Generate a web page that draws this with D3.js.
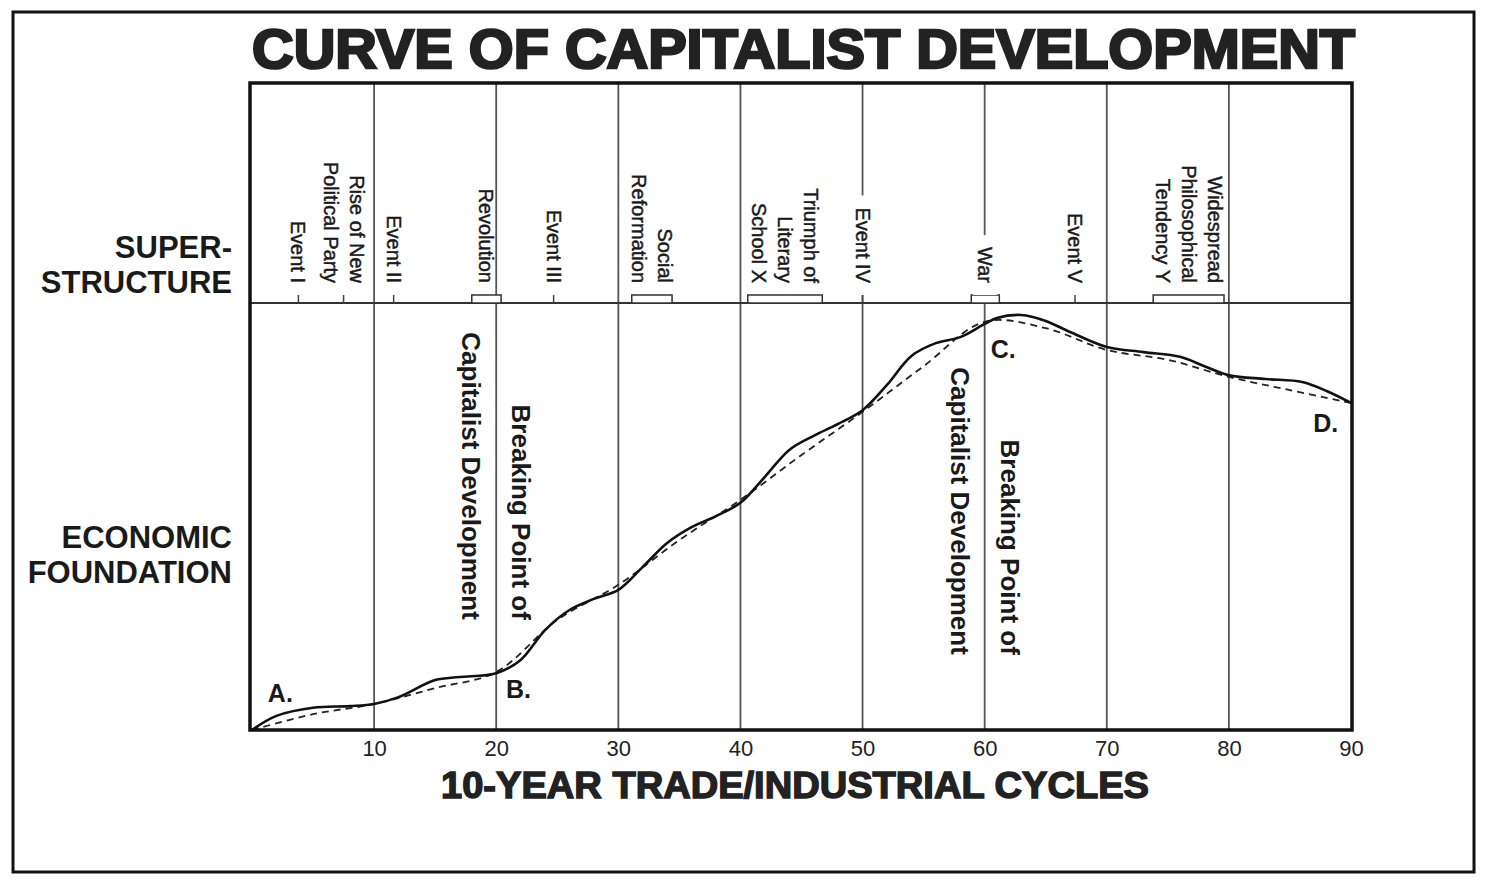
<!DOCTYPE html>
<html lang="en">
<head>
<meta charset="UTF-8">
<title>Curve of Capitalist Development</title>
<script src="https://d3js.org/d3.v7.min.js"></script>
<style>
  body { margin: 0; background: #fff; }
  svg { display: block; font-family: "Liberation Sans", Arial, Helvetica, sans-serif; }
</style>
</head>
<body>
<svg id="chart" width="1487" height="885"></svg>
<script>
// axis
const xTicks = [10, 20, 30, 40, 50, 60, 70, 80, 90];
const gridCycles = [10, 20, 30, 40, 50, 60, 70, 80];

// economic foundation: actual curve (solid) and trend (dashed), level 0-100
const cycleX = [0, 2, 5, 8, 10, 12, 15, 17, 20, 22, 24, 26, 28, 30, 32, 34, 36, 38, 40, 42, 44, 46, 48,
  50, 52, 54, 56, 58, 60, 61, 63, 65, 67, 70, 73, 76, 78, 80, 83, 86, 88, 90];
const actualLevel = [0, 3.3, 5.2, 5.6, 6.1, 7.7, 11.7, 12.4, 13.3, 16.4, 23.4, 28.1, 30.7, 32.8, 38.2, 43.8,
  47.5, 50.1, 53.2, 59.3, 65.6, 68.9, 71.7, 74.9, 80.8, 87.6, 90.6, 92.0, 95.1, 96.5, 97.2, 95.8, 93.2,
  89.7, 88.5, 87.4, 85.2, 83.1, 82.2, 81.5, 79.4, 76.6];
const trendX = [0, 5, 10, 15, 20, 25, 30, 35, 40, 45, 50, 55, 60, 65, 70, 75, 80, 85, 90];
const trendLevel = [0, 3.7, 6.1, 9.8, 13.6, 25.8, 34.0, 44.5, 53.9, 64.4, 74.5, 85.2, 95.6, 94.1, 89.0,
  86.7, 82.7, 79.6, 76.6];

// superstructure: single events (tick) and periods (bracket)
const eventLabels = [["Event I"], ["Rise of New", "Political Party"], ["Event II"], ["Event III"], ["Event IV"], ["Event V"]];
const eventX = [3.8, 7.5, 11.6, 24.7, 50, 67.4];
const periodLabels = [["Revolution"], ["Social", "Reformation"], ["Triumph of", "Literary", "School X"], ["War"],
  ["Widespread", "Philosophical", "Tendency Y"]];
const periodStart = [18.0, 31.1, 40.6, 58.9, 73.8];
const periodEnd = [20.4, 34.4, 46.7, 61.2, 79.6];

// curve annotations
const pointNames = ["A.", "B.", "C.", "D."];
const pointX = [1.3, 20.8, 60.5, 86.9];
const pointLevel = [6.6, 7.5, 87.1, 69.8];
const breakLines = ["Breaking Point of", "Capitalist Development"];
const breakX = [20, 60];
const breakEndLevel = [25.8, 17.6];

const svg = d3.select('#chart');
const plotLeft = 250, plotRight = 1352, plotTop = 83, divider = 303, plotBottom = 730;

const x = d3.scaleLinear().domain([0, 90]).range([252, 1351]);
const y = d3.scaleLinear().domain([0, 100]).range([plotBottom, divider]);

// outer frame
svg.append('rect')
  .attr('x', 13).attr('y', 12).attr('width', 1461).attr('height', 860)
  .attr('fill', 'none').attr('stroke', '#111').attr('stroke-width', 3);

// title
svg.append('text')
  .attr('x', 252).attr('y', 68)
  .attr('textLength', 1103).attr('lengthAdjust', 'spacingAndGlyphs')
  .attr('font-size', 56).attr('font-weight', 'bold')
  .attr('fill', '#222').attr('stroke', '#222').attr('stroke-width', 2.6)
  .text('CURVE OF CAPITALIST DEVELOPMENT');

// gridlines
svg.append('g').selectAll('line')
  .data(gridCycles)
  .enter()
  .append('line')
  .attr('x1', d => x(d)).attr('x2', d => x(d))
  .attr('y1', plotTop).attr('y2', plotBottom)
  .attr('stroke', '#555').attr('stroke-width', 1.8);

// divider between superstructure and foundation
svg.append('line')
  .attr('x1', plotLeft).attr('x2', plotRight).attr('y1', divider).attr('y2', divider)
  .attr('stroke', '#333').attr('stroke-width', 2);

// event ticks
svg.append('g').selectAll('line')
  .data(eventX)
  .enter()
  .append('line')
  .attr('x1', d => x(d)).attr('x2', d => x(d))
  .attr('y1', divider - 8).attr('y2', divider)
  .attr('stroke', '#444').attr('stroke-width', 1.5);

// period brackets
svg.append('g').selectAll('rect')
  .data(periodStart)
  .enter()
  .append('rect')
  .attr('x', d => x(d))
  .attr('y', divider - 8)
  .attr('width', (d, i) => x(periodEnd[i]) - x(d))
  .attr('height', 8)
  .attr('fill', '#fff').attr('stroke', '#333').attr('stroke-width', 1.5);

// rotated multi-line labels, lines centred around cx, text ending at yEnd
function verticalLabel(g, lines, cx, yEnd, spacing, size, weight, outline) {
  const n = lines.length;
  const nodes = [];
  lines.forEach((line, i) => {
    const lx = cx + ((n - 1) / 2 - i) * spacing;
    const t = g.append('text')
      .attr('transform', `translate(${lx},${yEnd}) rotate(90)`)
      .attr('text-anchor', 'end')
      .attr('dy', '0.35em')
      .attr('font-size', size)
      .attr('font-weight', weight)
      .attr('fill', '#1a1a1a')
      .attr('stroke', '#1a1a1a')
      .attr('stroke-width', outline)
      .text(line);
    nodes.push(t);
  });
  return nodes;
}

const superG = svg.append('g');
const labelEnd = 283;

function superLabel(lines, centre) {
  // blank the gridline behind labels that sit on it
  const onGrid = gridCycles.some(c => Math.abs(c - centre) < 0.5);
  const group = superG.append('g');
  const nodes = verticalLabel(group, lines, x(centre), labelEnd, 26, 20, 'normal', 0.45);
  if (onGrid) {
    const len = d3.max(nodes, t => t.node().getComputedTextLength());
    group.insert('rect', 'text')
      .attr('x', x(centre) - 12).attr('width', 24)
      .attr('y', labelEnd - len - 12)
      .attr('height', divider - 8 - (labelEnd - len - 12))
      .attr('fill', '#fff');
  }
}

eventLabels.forEach((lines, i) => superLabel(lines, eventX[i]));
periodLabels.forEach((lines, i) => superLabel(lines, (periodStart[i] + periodEnd[i]) / 2));

// left side headings
const headings = [["SUPER-", "STRUCTURE"], ["ECONOMIC", "FOUNDATION"]];
const headingBase = [258, 548];
headings.forEach((pair, h) => {
  pair.forEach((line, i) => {
    svg.append('text')
      .attr('x', 232).attr('y', headingBase[h] + i * 35)
      .attr('text-anchor', 'end')
      .attr('font-size', 31).attr('font-weight', 'bold')
      .attr('fill', '#1a1a1a')
      .text(line);
  });
});

// breaking point labels
breakX.forEach((bx, i) => {
  verticalLabel(svg.append('g'), breakLines, x(bx), y(breakEndLevel[i]), 50, 26, 'bold', 0);
});

// trend (dashed) and actual curve
const curveLine = d3.line()
  .x(d => x(d[0])).y(d => y(d[1]))
  .curve(d3.curveCatmullRom.alpha(0.5));

svg.append('path')
  .datum(trendX.map((d, i) => [d, trendLevel[i]]))
  .attr('d', curveLine)
  .attr('fill', 'none').attr('stroke', '#222')
  .attr('stroke-width', 1.8).attr('stroke-dasharray', '7,5');

svg.append('path')
  .datum(cycleX.map((d, i) => [d, actualLevel[i]]))
  .attr('d', curveLine)
  .attr('fill', 'none').attr('stroke', '#111')
  .attr('stroke-width', 2.6).attr('stroke-linejoin', 'round');

// point labels
svg.append('g').selectAll('text')
  .data(pointNames)
  .enter()
  .append('text')
  .attr('x', (d, i) => x(pointX[i]))
  .attr('y', (d, i) => y(pointLevel[i]))
  .attr('font-size', 25).attr('font-weight', 'bold')
  .attr('fill', '#1a1a1a')
  .text(d => d);

// plot border
svg.append('rect')
  .attr('x', plotLeft).attr('y', plotTop).attr('width', plotRight - plotLeft).attr('height', plotBottom - plotTop)
  .attr('fill', 'none').attr('stroke', '#111').attr('stroke-width', 3.5);

// x axis
const axis = svg.append('g')
  .attr('transform', `translate(0,${plotBottom})`)
  .call(d3.axisBottom(x).tickValues(xTicks).tickSize(0).tickPadding(10));
axis.select('.domain').remove();
axis.selectAll('text')
  .attr('font-size', 22)
  .attr('font-family', '"Liberation Sans Narrow", "Liberation Sans", Arial, sans-serif')
  .attr('fill', '#222');

svg.append('text')
  .attr('x', 441).attr('y', 798)
  .attr('textLength', 708).attr('lengthAdjust', 'spacingAndGlyphs')
  .attr('font-size', 36).attr('font-weight', 'bold')
  .attr('fill', '#222').attr('stroke', '#222').attr('stroke-width', 1.4)
  .text('10-YEAR TRADE/INDUSTRIAL CYCLES');
</script>
</body>
</html>
